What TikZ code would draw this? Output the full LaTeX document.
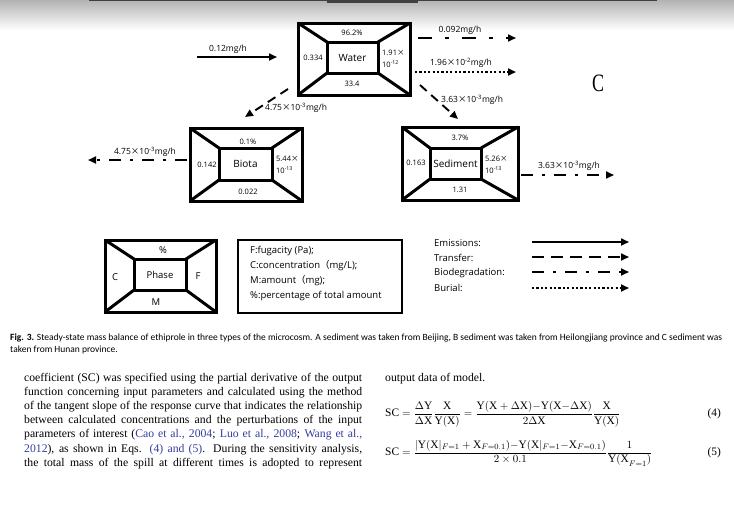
\documentclass[tikz,border=0pt]{standalone}
\usepackage{fontspec}
\setmainfont{Liberation Serif}
\newfontfamily\dgfont{Open Sans}
\newfontfamily\cjk{Noto Sans CJK SC}
\newfontfamily\capfont{Carlito}
\usetikzlibrary{arrows.meta}
\definecolor{citeblue}{RGB}{52,62,160}
\newcommand{\tms}{{\cjk ×}}
\newcommand{\cb}[1]{\textcolor{citeblue}{#1}}
\newcommand{\bline}[1]{\hbox to 338pt{#1}}
\tikzset{
  outerbox/.style={draw, line width=3pt, fill=white, inner sep=0pt, outer sep=0pt},
  innerbox/.style={draw, line width=3pt, inner sep=0pt, outer sep=0pt, font=\dgfont\fontsize{10}{12}\selectfont},
  diag/.style={line width=3pt},
  num/.style={font=\dgfont\fontsize{7.5}{11.5}\selectfont, inner sep=0pt},
  flowlbl/.style={font=\dgfont\fontsize{8.5}{10}\selectfont, inner sep=0pt},
  legtxt/.style={font=\dgfont\fontsize{9.5}{11}\selectfont, inner sep=0pt, anchor=west},
  phlbl/.style={font=\dgfont\fontsize{9.5}{11}\selectfont, inner sep=0pt},
  emis/.style={line width=1.9pt, -{Triangle[length=8pt,width=7pt]}},
  transf/.style={emis, dash pattern=on 11pt off 7pt},
  biodeg/.style={emis, dash pattern=on 12pt off 9pt on 3pt off 9pt},
  burial/.style={emis, dash pattern=on 2.2pt off 2.2pt},
}
\begin{document}
\begin{tikzpicture}[x=1pt,y=-1pt]
\useasboundingbox (0,0) rectangle (734,504);
\fill[white] (0,0) rectangle (734,504);
\shade[top color=gray!60, bottom color=white] (0,0) rectangle (734,30);
\fill[black!75] (89,0) rectangle (657,1.3);
\fill[black!75] (327,0) rectangle (418,3);

% ---------- Water
\node[outerbox, minimum width=112pt, minimum height=72pt] (W) at (354,59) {};
\node[innerbox, minimum width=51pt, minimum height=31pt] (Wi) at (352.5,57.5) {Water};
\draw[diag] (W.north west) -- (Wi.north west) (W.north east) -- (Wi.north east)
  (W.south west) -- (Wi.south west) (W.south east) -- (Wi.south east);
\node[num] (Wp) at (352,33) {96.2\%};
\node[num] (Wc) at (313,58) {0.334};
\node[num] (Wm) at (352,84) {33.4};
\node[num, align=left, anchor=west] (Wf) at (382,59) {1.91\tms\\10\textsuperscript{-12}};

% ---------- Biota
\node[outerbox, minimum width=112pt, minimum height=73pt] (B) at (246,164.5) {};
\node[innerbox, minimum width=53pt, minimum height=32pt] (Bi) at (245.5,164) {Biota};
\draw[diag] (B.north west) -- (Bi.north west) (B.north east) -- (Bi.north east)
  (B.south west) -- (Bi.south west) (B.south east) -- (Bi.south east);
\node[num] (Bp) at (248,142) {0.1\%};
\node[num] (Bc) at (207,165) {0.142};
\node[num] (Bm) at (248,192) {0.022};
\node[num, align=left, anchor=west] (Bf) at (276,165) {5.44\tms\\10\textsuperscript{-13}};

% ---------- Sediment
\node[outerbox, minimum width=116pt, minimum height=73pt] (S) at (460,163.5) {};
\node[innerbox, minimum width=51pt, minimum height=31pt] (Si) at (455.5,163.5) {Sediment};
\draw[diag] (S.north west) -- (Si.north west) (S.north east) -- (Si.north east)
  (S.south west) -- (Si.south west) (S.south east) -- (Si.south east);
\node[num] (Sp) at (460,138) {3.7\%};
\node[num] (Sc) at (416,163) {0.163};
\node[num] (Sm) at (460,190) {1.31};
\node[num, align=left, anchor=west] (Sf) at (485,165) {5.26\tms\\10\textsuperscript{-13}};

% ---------- flows
\coordinate (e0) at (197,57); \coordinate (e1) at (277,57);
\draw[emis] (e0) -- (e1);
\node[flowlbl] (le) at (228,49) {0.12mg/h};

\coordinate (b0) at (418,38); \coordinate (b1) at (516,38);
\draw[emis, dash pattern=on 14pt off 13pt on 4pt off 13pt] (b0) -- (b1);
\node[flowlbl] (lb) at (460,30) {0.092mg/h};

\coordinate (u0) at (415,72); \coordinate (u1) at (516,72);
\draw[burial, line width=2.3pt] (u0) -- (u1);
\node[flowlbl] (lu) at (461,63) {1.96\tms10\textsuperscript{-2}mg/h};

\coordinate (t0) at (420,85); \coordinate (t1) at (458,119);
\draw[transf, dash pattern=on 9pt off 6pt] (t0) -- (t1);
\node[flowlbl, anchor=west] (lt) at (441,100) {3.63\tms10\textsuperscript{-3}mg/h};

\coordinate (d0) at (288,89); \coordinate (d1) at (245,117);
\draw[transf, dash pattern=on 9pt off 6pt] (d0) -- (d1);
\node[flowlbl, anchor=west] (ld) at (265,108) {4.75\tms10\textsuperscript{-3}mg/h};

\coordinate (g0) at (187,160); \coordinate (g1) at (88,160);
\draw[biodeg] (g0) -- (g1);
\node[flowlbl] (lg) at (145,152) {4.75\tms10\textsuperscript{-3}mg/h};

\coordinate (s0) at (521,175); \coordinate (s1) at (614,175);
\draw[biodeg] (s0) -- (s1);
\node[flowlbl] (ls) at (569,166) {3.63\tms10\textsuperscript{-3}mg/h};

\node[inner sep=0pt, font=\fontsize{25}{25}\selectfont, xscale=0.72] (bigC) at (598,83) {C};

% ---------- legend: phase
\node[outerbox, minimum width=111pt, minimum height=72pt] (P) at (160.5,276) {};
\node[innerbox, font=\dgfont\fontsize{9.5}{11}\selectfont, minimum width=52pt, minimum height=31pt] (Pi) at (160,274.5) {Phase};
\draw[diag] (P.north west) -- (Pi.north west) (P.north east) -- (Pi.north east)
  (P.south west) -- (Pi.south west) (P.south east) -- (Pi.south east);
\node[phlbl] (Pp) at (163,250) {\%};
\node[phlbl] (Pc) at (115,277) {C};
\node[phlbl] (Pf) at (198,276) {F};
\node[phlbl] (Pm) at (156,302) {M};

% ---------- legend: text box
\node[draw, line width=2.2pt, inner sep=0pt, outer sep=0pt, minimum width=164pt, minimum height=73pt] (T) at (320,276.5) {};
\node[legtxt] (T1) at (250,251) {F:fugacity (Pa);};
\node[legtxt] (T2) at (250,266) {C:concentration{\cjk （}mg/L);};
\node[legtxt] (T3) at (250,281) {M:amount{\cjk （}mg);};
\node[legtxt] (T4) at (250,296) {\%:percentage of total amount};

% ---------- legend: line types
\node[legtxt] (K1) at (434,243) {Emissions:};
\node[legtxt] (K2) at (434,258) {Transfer:};
\node[legtxt] (K3) at (434,273) {Biodegradation:};
\node[legtxt] (K4) at (434,288) {Burial:};
\coordinate (k1a) at (532,242); \coordinate (k1b) at (629,242);
\coordinate (k2a) at (532,257); \coordinate (k2b) at (629,257);
\coordinate (k3a) at (532,272); \coordinate (k3b) at (629,272);
\coordinate (k4a) at (532,288); \coordinate (k4b) at (629,288);
\draw[emis] (k1a) -- (k1b);
\draw[transf, dash pattern=on 12pt off 7pt] (k2a) -- (k2b);
\draw[biodeg, dash pattern=on 12pt off 9pt on 3pt off 9pt] (k3a) -- (k3b);
\draw[burial] (k4a) -- (k4b);

% ---------- caption
\node[anchor=base west, inner sep=0pt] (cap) at (10,340.5) {\parbox[t]{712pt}{\capfont\fontsize{9.5}{11.5}\selectfont
\hbox to 712pt{\textbf{Fig. 3.} Steady-state mass balance of ethiprole in three types of the microcosm. A sediment was taken from Beijing, B sediment was taken from Heilongjiang province and C sediment was}
\hbox{taken from Hunan province.}}};

% ---------- body text, left column
\node[anchor=base west, inner sep=0pt] (body) at (24,381.5) {\parbox[t]{338pt}{\fontsize{11.7}{14.1}\selectfont
\bline{coefficient (SC) was specified using the partial derivative of the output}
\bline{function concerning input parameters and calculated using the method}
\bline{of the tangent slope of the response curve that indicates the relationship}
\bline{between calculated concentrations and the perturbations of the input}
\bline{parameters of interest (\cb{Cao et al., 2004}; \cb{Luo et al., 2008}; \cb{Wang et al.,}}
\bline{\cb{2012}), as shown in Eqs. \cb{(4) and (5)}. During the sensitivity analysis,}
\bline{the total mass of the spill at different times is adopted to represent}}};

% ---------- right column
\node[anchor=base west, inner sep=0pt, font=\fontsize{11.7}{13}\selectfont] (rc) at (385,381.5) {output data of model.};
\node[anchor=west, inner sep=0pt, font=\fontsize{11.4}{13}\selectfont] (eq4) at (385,414) {$\displaystyle \mathrm{SC}=\frac{\Delta\mathrm{Y}}{\Delta\mathrm{X}}\frac{\mathrm{X}}{\mathrm{Y(X)}}=\frac{\mathrm{Y(X}+\Delta\mathrm{X)}{-}\mathrm{Y(X}{-}\Delta\mathrm{X)}}{2\Delta\mathrm{X}}\frac{\mathrm{X}}{\mathrm{Y(X)}}$};
\node[anchor=east, inner sep=0pt, font=\fontsize{11.4}{13}\selectfont] (n4) at (721,414) {(4)};
\node[anchor=west, inner sep=0pt, font=\fontsize{11.4}{13}\selectfont] (eq5) at (385,453) {$\displaystyle \mathrm{SC}=\frac{|\mathrm{Y(X}|_{F=1}+\mathrm{X}_{F=0.1}){-}\mathrm{Y(X}|_{F=1}{-}\mathrm{X}_{F=0.1})}{2\times 0.1}\frac{1}{\mathrm{Y(X}_{F=1})}$};
\node[anchor=east, inner sep=0pt, font=\fontsize{11.4}{13}\selectfont] (n5) at (721,453) {(5)};
\end{tikzpicture}
\end{document}
